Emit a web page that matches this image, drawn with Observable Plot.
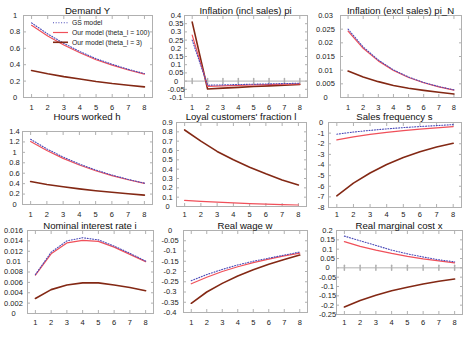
<!DOCTYPE html>
<html><head><meta charset="utf-8">
<script src="https://cdn.jsdelivr.net/npm/d3@7"></script>
<script src="https://cdn.jsdelivr.net/npm/@observablehq/plot@0.6"></script>
<style>
body{margin:0;background:#fff;}
#root{position:relative;width:474px;height:356px;overflow:hidden;font-family:"Liberation Sans",Arial,sans-serif;background:#fff;}
.title{position:absolute;font-size:9.6px;white-space:nowrap;transform:translateX(-50%);line-height:1;color:#111;}
#root svg{position:absolute;}
</style></head><body><div id="root"></div>
<script>
// ---------- data ----------
const periods = [1, 2, 3, 4, 5, 6, 7, 8];
const seriesNames = ["GS model", "Our model (theta_l = 100)", "Our model (theta_l = 3)"];
const titles = ["Demand Y", "Inflation (incl sales) pi", "Inflation (excl sales) pi_N",
  "Hours worked h", "Loyal customers' fraction l", "Sales frequency s",
  "Nominal interest rate i", "Real wage w", "Real marginal cost x"];

const demandGS  = [0.91, 0.775, 0.66, 0.56, 0.473, 0.405, 0.343, 0.292];
const demand100 = [0.88, 0.75, 0.64, 0.545, 0.46, 0.395, 0.335, 0.285];
const demand3   = [0.33, 0.29, 0.255, 0.225, 0.195, 0.17, 0.15, 0.13];

const piGS  = [0.25, -0.025, -0.023, -0.021, -0.019, -0.017, -0.015, -0.013];
const pi100 = [0.28, -0.032, -0.029, -0.026, -0.023, -0.021, -0.019, -0.017];
const pi3   = [0.36, -0.048, -0.043, -0.038, -0.033, -0.029, -0.025, -0.021];

const piNGS  = [0.025, 0.0185, 0.0137, 0.0101, 0.0075, 0.0055, 0.004, 0.0028];
const piN100 = [0.0243, 0.018, 0.0134, 0.0099, 0.0073, 0.0054, 0.0039, 0.0027];
const piN3   = [0.0097, 0.0075, 0.0058, 0.0044, 0.0034, 0.0026, 0.0019, 0.0013];

const hoursGS  = [1.25, 1.066, 0.91, 0.776, 0.662, 0.565, 0.482, 0.41];
const hours100 = [1.21, 1.035, 0.885, 0.757, 0.648, 0.554, 0.474, 0.405];
const hours3   = [0.44, 0.385, 0.34, 0.3, 0.265, 0.235, 0.205, 0.18];

const loyal100 = [0.065, 0.055, 0.046, 0.038, 0.031, 0.025, 0.02, 0.016];
const loyal3   = [0.82, 0.70, 0.59, 0.50, 0.42, 0.35, 0.285, 0.23];

const salesGS  = [-1.1, -0.9, -0.74, -0.6, -0.48, -0.38, -0.29, -0.2];
const sales100 = [-1.63, -1.35, -1.12, -0.93, -0.77, -0.63, -0.5, -0.38];
const sales3   = [-6.9, -5.7, -4.75, -3.95, -3.3, -2.75, -2.3, -1.95];

const rateGS  = [0.0075, 0.0118, 0.014, 0.0146, 0.0142, 0.013, 0.0116, 0.0101];
const rate100 = [0.0074, 0.0115, 0.0136, 0.0141, 0.0139, 0.0128, 0.0114, 0.01];
const rate3   = [0.0029, 0.0046, 0.0055, 0.0059, 0.0059, 0.0055, 0.005, 0.0044];

const wageGS  = [-0.245, -0.215, -0.19, -0.168, -0.15, -0.135, -0.12, -0.105];
const wage100 = [-0.26, -0.228, -0.2, -0.177, -0.157, -0.14, -0.124, -0.11];
const wage3   = [-0.355, -0.3, -0.258, -0.222, -0.192, -0.165, -0.141, -0.12];

const mcGS  = [0.17, 0.145, 0.12, 0.095, 0.075, 0.058, 0.043, 0.032];
const mc100 = [0.14, 0.115, 0.095, 0.077, 0.061, 0.048, 0.037, 0.027];
const mc3   = [-0.21, -0.175, -0.147, -0.123, -0.104, -0.087, -0.072, -0.06];

const ticksDemand = [0, 0.2, 0.4, 0.6, 0.8, 1];
const ticksPi = [-0.1, -0.05, 0, 0.05, 0.1, 0.15, 0.2, 0.25, 0.3, 0.35, 0.4];
const ticksPiN = [0, 0.005, 0.01, 0.015, 0.02, 0.025, 0.03];
const ticksHours = [0, 0.2, 0.4, 0.6, 0.8, 1, 1.2, 1.4];
const ticksLoyal = [0, 0.1, 0.2, 0.3, 0.4, 0.5, 0.6, 0.7, 0.8, 0.9];
const ticksSales = [-8, -7, -6, -5, -4, -3, -2, -1, 0];
const ticksRate = [0, 0.002, 0.004, 0.006, 0.008, 0.01, 0.012, 0.014, 0.016];
const ticksWage = [-0.4, -0.35, -0.3, -0.25, -0.2, -0.15, -0.1, -0.05, 0];
const ticksMC = [-0.25, -0.2, -0.15, -0.1, -0.05, 0, 0.05, 0.1, 0.15, 0.2];

// ---------- styles / layout ----------
const colors = ["#4a4ab8", "#f0505a", "#832814"];
const FRAME = "#b0b0b0";
const rowTitle = [13.3, 119.5, 228.5];
const rowTickLabel = [107, 213.7, 322];
const panels = [
  {t: 0, row: 0, s: [demandGS, demand100, demand3], ticks: ticksDemand, box: [23, 15, 152, 97], lp: 8.5},
  {t: 1, row: 0, s: [piGS, pi100, pi3], ticks: ticksPi, box: [184, 15, 307, 97], lp: 8.5, zero: true},
  {t: 2, row: 0, s: [piNGS, piN100, piN3], ticks: ticksPiN, box: [340, 15, 461, 97], lp: 15},
  {t: 3, row: 1, s: [hoursGS, hours100, hours3], ticks: ticksHours, box: [22, 131, 152, 204], lp: 8},
  {t: 4, row: 1, s: [null, loyal100, loyal3], ticks: ticksLoyal, box: [176, 122, 306, 206], lp: 9},
  {t: 5, row: 1, s: [salesGS, sales100, sales3], ticks: ticksSales, box: [328, 122, 461, 207], lp: 7.5},
  {t: 6, row: 2, s: [rateGS, rate100, rate3], ticks: ticksRate, box: [27, 230, 153, 313], lp: 14},
  {t: 7, row: 2, s: [wageGS, wage100, wage3], ticks: ticksWage, box: [183, 230, 307, 312], lp: 13.5},
  {t: 8, row: 2, s: [mcGS, mc100, mc3], ticks: ticksMC, box: [336, 230, 462, 314], lp: 9, zero: true}
];
const fmt = d => String(+d.toFixed(6));
const ML = 34, MR = 6, MT = 6, MB = 20;
const root = document.getElementById("root");
const tickShape = {draw(ctx, l) { ctx.moveTo(0, 0); ctx.lineTo(0, -l); }};

for (const p of panels) {
  const [l, t, r, b] = p.box;
  const rows = [];
  p.s.forEach((vals, si) => {
    if (!vals) return;
    vals.forEach((v, i) => rows.push({x: periods[i], y: v, series: seriesNames[si]}));
  });
  const lineFor = si => Plot.line(rows.filter(d => d.series === seriesNames[si]), {
    x: "x", y: "y", stroke: colors[si],
    strokeWidth: si === 2 ? 1.6 : (si === 0 ? 1.1 : 1.2),
    strokeDasharray: si === 0 ? "1,1.7" : null
  });
  const yDomain = [d3.min(p.ticks), d3.max(p.ticks)];
  const xPad = rowTickLabel[p.row] - b - 2.7;
  const svg = Plot.plot({
    width: (r - l) + ML + MR,
    height: (b - t) + MT + MB,
    marginLeft: ML, marginRight: MR, marginTop: MT, marginBottom: MB,
    style: {background: "transparent", overflow: "visible", fontFamily: "'Liberation Sans', Arial, sans-serif", fontSize: "7.5px", color: "#222"},
    x: {domain: [0.5, 8.5]},
    y: {domain: yDomain},
    marks: [
      Plot.frame({stroke: FRAME}),
      p.zero ? Plot.ruleY([0], {stroke: FRAME}) : null,
      p.zero ? Plot.vector(periods, {x: d => d, y: () => 0, length: 5, rotate: 0, anchor: "middle", shape: tickShape, stroke: FRAME}) : null,
      Plot.axisX(periods, {anchor: "bottom", tickSize: -3, stroke: FRAME, fill: "none", label: null}),
      Plot.axisX(periods, {anchor: "top", tickSize: -3, stroke: FRAME, fill: "none", label: null}),
      Plot.axisY(p.ticks, {anchor: "left", tickSize: -3, stroke: FRAME, fill: "none", label: null}),
      Plot.axisY(p.ticks, {anchor: "right", tickSize: -3, stroke: FRAME, fill: "none", label: null}),
      Plot.axisX(periods, {anchor: "bottom", tickSize: 0, tickPadding: xPad, fill: "#222", label: null, fontSize: 7.5}),
      Plot.axisY(p.ticks, {anchor: "left", tickSize: 0, tickPadding: p.lp, textAnchor: "middle", fill: "#222", label: null, tickFormat: fmt, fontSize: 7.5}),
      lineFor(2),
      lineFor(1),
      lineFor(0)
    ]
  });
  svg.style.left = (l - ML) + "px";
  svg.style.top = (t - MT) + "px";
  root.appendChild(svg);

  const title = document.createElement("div");
  title.className = "title";
  title.textContent = titles[p.t];
  title.style.left = ((l + r) / 2) + "px";
  title.style.top = (rowTitle[p.row] - 7.6) + "px";
  root.appendChild(title);
}

// legend inside first panel
const leg = d3.create("svg").attr("width", 110).attr("height", 36)
  .style("left", "50px").style("top", "17px")
  .style("font-family", "'Liberation Sans', Arial, sans-serif").style("font-size", "6.8px");
seriesNames.forEach((name, i) => {
  const y = 5.7 + i * 9.8;
  leg.append("line").attr("x1", 3).attr("x2", 18).attr("y1", y).attr("y2", y)
    .attr("stroke", colors[i]).attr("stroke-width", i === 2 ? 1.6 : (i === 0 ? 1.1 : 1.2))
    .attr("stroke-dasharray", i === 0 ? "1,1.7" : null);
  leg.append("text").attr("x", 22).attr("y", y).attr("dy", "0.35em").attr("fill", "#222").text(name);
});
root.appendChild(leg.node());
</script>
</body></html>
